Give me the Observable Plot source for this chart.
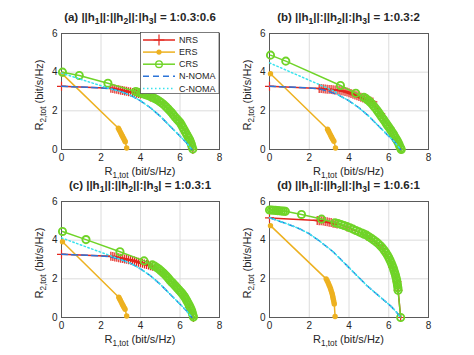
<!DOCTYPE html>
<html><head><meta charset="utf-8">
<script src="https://cdn.jsdelivr.net/npm/d3@7"></script>
<script src="https://cdn.jsdelivr.net/npm/@observablehq/plot@0.6"></script>
<style>
body{margin:0;background:#fff}
#root{position:relative;width:474px;height:355px;font-family:"Liberation Sans",Arial,sans-serif;color:#262626;overflow:hidden;background:#fff}
.t{position:absolute;white-space:nowrap;line-height:1}
.title{font-weight:bold;font-size:11.5px;transform:translateX(-50%)}
.xl{font-size:11px;transform:translateX(-50%)}
.yl{font-size:11px;transform:translate(-50%,-50%) rotate(-90deg)}
sub{font-size:0.75em;vertical-align:-0.4em;line-height:0}
</style></head>
<body><div id="root"></div>
<script>
// ---- data ----
const xTicks = [0, 2, 4, 6, 8];
const yTicks = [0, 2, 4, 6];
const seriesNames = ["NRS", "ERS", "CRS", "N-NOMA", "C-NOMA"];
const panelLetters = ["a", "b", "c", "d"];
const ratios = ["1:0.3:0.6", "1:0.3:2", "1:0.3:1", "1:0.6:1"];

const nrsA = [[0,3.27],[2.5,3.17],[2.6,3.15],[2.7,3.13],[2.8,3.11],[2.9,3.09],[3.0,3.07],[3.1,3.05],[3.2,3.03],[3.3,3.01],[3.4,2.99],[3.5,2.97],[3.6,2.95],[3.7,2.93],[3.8,2.91],[3.9,2.89],[4.0,2.87],[4.5,2.72],[5.0,2.45],[5.5,1.98],[6.0,1.38],[6.3,0.85],[6.5,0.4],[6.65,0]];
const ersA = [[0.05,3.9],[2.88,1.10],[2.92,1.02],[2.96,0.94],[3.00,0.86],[3.04,0.78],[3.08,0.70],[3.12,0.62],[3.16,0.54],[3.20,0.46],[3.23,0.40],[3.30,0.08]];
const crsA = [[0.05,4.0],[0.9,3.83],[2.35,3.43],[3.76,3.0],[3.88,2.96],[4.0,2.92],[4.12,2.88],[4.24,2.84],[4.36,2.80],[4.48,2.75],[4.60,2.70],[4.72,2.64],[4.84,2.57],[4.96,2.49],[5.07,2.41],[5.18,2.32],[5.28,2.22],[5.38,2.12],[5.48,2.01],[5.57,1.91],[5.66,1.80],[5.75,1.68],[5.84,1.58],[5.92,1.49],[6.00,1.40],[6.07,1.28],[6.14,1.15],[6.21,1.02],[6.28,0.89],[6.35,0.76],[6.42,0.63],[6.49,0.50],[6.54,0.38],[6.58,0.26],[6.61,0.14],[6.65,0.02]];
const nnomaA = [[0,3.27],[1.0,3.23],[2.0,3.18],[2.5,3.14],[3.0,3.0],[3.5,2.8],[4.0,2.52],[4.5,2.16],[5.0,1.72],[5.55,1.15],[6.0,0.69],[6.3,0.38],[6.6,0]];
const cnomaA = [[0,3.95],[2.6,3.1],[3.0,3.0],[3.5,2.8],[4.0,2.52],[4.5,2.16],[5.0,1.72],[5.55,1.15],[6.0,0.69],[6.3,0.38],[6.6,0]];

const nrsB = [[0,3.27],[2.5,3.16],[2.6,3.15],[2.7,3.14],[2.8,3.13],[2.9,3.12],[3.0,3.11],[3.1,3.10],[3.2,3.09],[3.3,3.08],[3.4,3.07],[3.5,3.06],[3.6,3.04],[3.7,3.02],[3.8,3.00],[3.9,2.97],[4.0,2.94],[4.1,2.90],[4.2,2.86],[4.3,2.82],[4.4,2.78],[4.5,2.74],[4.6,2.70],[4.7,2.66],[4.8,2.62],[4.9,2.58],[5.0,2.54],[5.1,2.50],[5.2,2.46],[5.6,1.85],[6.05,1.12],[6.42,0.45],[6.62,0]];
const ersB = [[0.05,3.92],[2.92,1.05],[2.96,0.97],[3.0,0.89],[3.04,0.81],[3.08,0.73],[3.12,0.65],[3.16,0.57],[3.20,0.50],[3.24,0.43],[3.32,0.08]];
const crsB = [[0.05,4.88],[0.82,4.57],[3.57,3.31],[4.34,2.91],[4.75,2.70],[4.86,2.63],[4.96,2.55],[5.06,2.46],[5.15,2.36],[5.24,2.25],[5.33,2.14],[5.42,2.02],[5.50,1.90],[5.58,1.78],[5.66,1.66],[5.74,1.55],[5.82,1.43],[5.89,1.32],[5.96,1.22],[6.03,1.12],[6.10,1.01],[6.17,0.90],[6.24,0.79],[6.30,0.68],[6.36,0.57],[6.42,0.47],[6.47,0.37],[6.52,0.26],[6.56,0.15],[6.60,0.06],[6.63,0.0]];
const nnomaB = [[0,3.27],[1.0,3.23],[2.0,3.18],[2.5,3.14],[3.0,3.0],[3.5,2.8],[4.0,2.52],[4.5,2.16],[5.0,1.72],[5.55,1.15],[6.0,0.69],[6.3,0.38],[6.6,0]];
const cnomaB = [[0,4.48],[3.3,3.0],[3.5,2.8],[4.0,2.52],[4.5,2.16],[5.0,1.72],[5.55,1.15],[6.0,0.69],[6.3,0.38],[6.6,0]];

const nrsC = [[0,3.27],[2.5,3.17],[2.6,3.15],[2.7,3.13],[2.8,3.11],[2.9,3.09],[3.0,3.07],[3.1,3.05],[3.2,3.03],[3.3,3.01],[3.4,2.99],[3.5,2.97],[3.6,2.95],[3.7,2.92],[3.8,2.89],[3.9,2.86],[4.0,2.83],[4.1,2.80],[4.2,2.77],[4.3,2.74],[4.4,2.71],[4.5,2.68],[4.6,2.65],[5.2,2.25],[5.7,1.76],[6.2,1.13],[6.5,0.52],[6.68,0]];
const ersC = [[0.05,3.92],[2.9,1.05],[2.94,0.97],[2.98,0.89],[3.02,0.81],[3.06,0.73],[3.10,0.65],[3.14,0.57],[3.18,0.50],[3.22,0.43],[3.30,0.08]];
const crsC = [[0.05,4.45],[1.24,4.03],[2.96,3.40],[4.18,2.93],[4.60,2.72],[4.71,2.66],[4.82,2.59],[4.93,2.51],[5.03,2.42],[5.13,2.33],[5.23,2.23],[5.32,2.13],[5.41,2.03],[5.49,1.93],[5.57,1.84],[5.63,1.78],[5.71,1.69],[5.79,1.60],[5.87,1.51],[5.95,1.42],[6.03,1.33],[6.10,1.25],[6.16,1.17],[6.22,1.09],[6.28,0.99],[6.34,0.88],[6.40,0.77],[6.46,0.65],[6.51,0.54],[6.56,0.43],[6.60,0.32],[6.63,0.21],[6.66,0.11],[6.68,0.02]];
const nnomaC = [[0,3.27],[1.0,3.23],[2.0,3.18],[2.5,3.14],[3.0,3.0],[3.5,2.8],[4.0,2.52],[4.5,2.16],[5.0,1.72],[5.55,1.15],[6.0,0.69],[6.3,0.38],[6.6,0]];
const cnomaC = [[0,4.12],[3.0,3.0],[3.5,2.8],[4.0,2.52],[4.5,2.16],[5.0,1.72],[5.55,1.15],[6.0,0.69],[6.3,0.38],[6.6,0]];

const nrsD = [[0,5.15],[2.4,5.02],[2.5,5.01],[2.6,5.0],[2.7,4.99],[2.8,4.97],[2.9,4.95],[3.0,4.93],[3.1,4.91],[3.2,4.88],[3.3,4.86],[3.4,4.83],[3.9,4.68],[4.9,4.22],[5.7,3.56],[6.2,2.6],[6.42,1.85],[6.47,1.41],[6.6,0]];
const ersD = [[0.05,4.75],[2.85,2.0],[2.90,1.90],[2.95,1.80],[2.99,1.70],[3.03,1.60],[3.07,1.50],[3.10,1.40],[3.13,1.30],[3.16,1.20],[3.18,1.10],[3.20,1.00],[3.22,0.90],[3.24,0.80],[3.26,0.70],[3.30,0.05]];
const crsD = [[0,5.56],[0.1,5.56],[0.2,5.55],[0.3,5.54],[0.4,5.53],[0.5,5.52],[0.6,5.51],[0.7,5.50],[0.8,5.49],[1.61,5.33],[2.62,5.09],[3.30,4.90],[3.45,4.86],[3.60,4.81],[3.75,4.76],[3.90,4.70],[4.05,4.64],[4.20,4.57],[4.35,4.50],[4.50,4.43],[4.64,4.37],[4.76,4.31],[4.88,4.26],[5.00,4.18],[5.12,4.10],[5.24,4.01],[5.36,3.92],[5.47,3.82],[5.58,3.71],[5.68,3.60],[5.77,3.48],[5.85,3.36],[5.93,3.23],[6.00,3.10],[6.06,2.97],[6.12,2.84],[6.17,2.71],[6.22,2.58],[6.26,2.45],[6.30,2.32],[6.34,2.19],[6.37,2.06],[6.40,1.93],[6.42,1.80],[6.44,1.67],[6.46,1.54],[6.47,1.41],[6.6,0.0]];
const nnomaD = [[0,5.16],[0.5,4.98],[1.0,4.8],[1.53,4.58],[2.0,4.33],[2.5,3.97],[3.2,3.4],[4.0,2.58],[4.88,1.67],[5.5,1.12],[6.05,0.64],[6.35,0.33],[6.6,0]];
const cnomaD = [[0,5.16],[0.5,4.98],[1.0,4.8],[1.53,4.58],[2.0,4.33],[2.5,3.97],[3.2,3.4],[4.0,2.58],[4.88,1.67],[5.5,1.12],[6.05,0.64],[6.35,0.33],[6.6,0]];

// ---- styles / layout ----
const colors = {NRS:"#e3261e", ERS:"#edb120", CRS:"#6fd428", "N-NOMA":"#2c74d8", "C-NOMA":"#38e3ee"};
const boxes = {a:[61,219,33,149], b:[269,428,33,149], c:[61,219,201,317], d:[269,428,201,317]};
const panelData = {
  a:[nrsA, ersA, crsA, nnomaA, cnomaA],
  b:[nrsB, ersB, crsB, nnomaB, cnomaB],
  c:[nrsC, ersC, crsC, nnomaC, cnomaC],
  d:[nrsD, ersD, crsD, nnomaD, cnomaD]
};

const root = document.getElementById("root");
const acc = {x: d => d[0], y: d => d[1]};
const ml = 34, mr = 10, mt = 10, mb = 22;
const fmt = d => String(d);

panelLetters.forEach((p, i) => {
  const [L, R, T, B] = boxes[p];
  const [nrs, ers, crs, nn, cn] = panelData[p];
  const svg = Plot.plot({
    width: (R - L) + ml + mr,
    height: (B - T) + mt + mb,
    marginLeft: ml, marginRight: mr, marginTop: mt, marginBottom: mb,
    x: {domain: [0, 8]},
    y: {domain: [0, 6]},
    style: {fontFamily: "Liberation Sans, Arial, sans-serif", fontSize: "10px", color: "#262626", background: "transparent", overflow: "visible"},
    marks: [
      Plot.gridX({ticks: xTicks, stroke: "#dcdcdc", strokeOpacity: 1}),
      Plot.gridY({ticks: yTicks, stroke: "#dcdcdc", strokeOpacity: 1}),
      Plot.frame({stroke: "#5a5a5a", strokeWidth: 1}),
      Plot.axisX({ticks: xTicks, tickFormat: fmt, tickSize: 0, tickPadding: 4, label: null, fontSize: 10}),
      Plot.axisY({ticks: yTicks, tickFormat: fmt, tickSize: 0, tickPadding: 4, label: null, fontSize: 10}),
      Plot.line(nrs, {...acc, stroke: colors.NRS, strokeWidth: 1.5}),
      Plot.dot(nrs, {...acc, symbol: "plus", r: 3, stroke: colors.NRS, strokeWidth: 1.2}),
      Plot.line(ers, {...acc, stroke: colors.ERS, strokeWidth: 1.5}),
      Plot.dot(ers, {...acc, r: 2.7, fill: colors.ERS}),
      Plot.line(crs, {...acc, stroke: colors.CRS, strokeWidth: 1.5}),
      Plot.dot(crs, {...acc, r: 3.6, stroke: colors.CRS, strokeWidth: 1.9, fill: "none"}),
      Plot.line(nn, {...acc, stroke: colors["N-NOMA"], strokeWidth: 1.5, strokeDasharray: "6,4"}),
      Plot.line(cn, {...acc, stroke: colors["C-NOMA"], strokeWidth: 1.5, strokeDasharray: "1.5,2.5"})
    ]
  });
  svg.style.position = "absolute";
  svg.style.left = (L - ml) + "px";
  svg.style.top = (T - mt) + "px";
  root.append(svg);

  const cx = (L + R) / 2, cy = (T + B) / 2;
  const title = document.createElement("div");
  title.className = "t title";
  title.style.left = cx + "px"; title.style.top = (T - 21) + "px";
  title.innerHTML = `(${p}) ||h<sub>1</sub>||:||h<sub>2</sub>||:|h<sub>3</sub>| = ${ratios[i]}`;
  root.append(title);

  const xl = document.createElement("div");
  xl.className = "t xl";
  xl.style.left = cx + "px"; xl.style.top = (B + 17) + "px";
  xl.innerHTML = "R<sub>1,tot</sub> (bit/s/Hz)";
  root.append(xl);

  const yl = document.createElement("div");
  yl.className = "t yl";
  yl.style.left = (L - 22) + "px"; yl.style.top = (cy + 4) + "px";
  yl.innerHTML = "R<sub>2,tot</sub> (bit/s/Hz)";
  root.append(yl);
});

// ---- legend (panel a) ----
const leg = d3.create("svg").attr("width", 474).attr("height", 355)
  .style("position", "absolute").style("left", "0px").style("top", "0px");
leg.append("rect").attr("x", 140.5).attr("y", 32.5).attr("width", 78.5).attr("height", 61)
  .attr("fill", "#fff").attr("stroke", "#444").attr("stroke-width", 0.7);
const dashes = {"N-NOMA": "6,4", "C-NOMA": "1.5,2.5"};
seriesNames.forEach((name, i) => {
  const y = 40 + i * 12.1;
  const c = colors[name];
  leg.append("line").attr("x1", 143).attr("x2", 175).attr("y1", y).attr("y2", y)
    .attr("stroke", c).attr("stroke-width", 1.5).attr("stroke-dasharray", dashes[name] || null);
  if (name === "NRS") {
    leg.append("path").attr("d", d3.symbol(d3.symbolPlus, 40)()).attr("transform", `translate(159,${y})`)
      .attr("stroke", c).attr("stroke-width", 1.2).attr("fill", "none");
  } else if (name === "ERS") {
    leg.append("circle").attr("cx", 159).attr("cy", y).attr("r", 2.6).attr("fill", c);
  } else if (name === "CRS") {
    leg.append("circle").attr("cx", 159).attr("cy", y).attr("r", 3.3).attr("fill", "none").attr("stroke", c).attr("stroke-width", 1.4);
  }
  leg.append("text").attr("x", 179).attr("y", y).attr("dy", "0.35em")
    .attr("font-size", 9).attr("font-family", "Liberation Sans, Arial, sans-serif").attr("fill", "#262626").text(name);
});
root.append(leg.node());
</script></body></html>
